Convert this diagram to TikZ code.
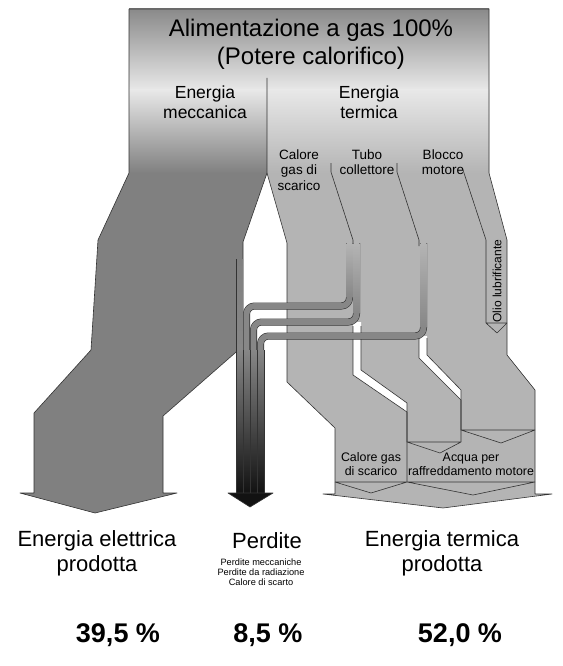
\documentclass[tikz,border=0pt]{standalone}
\usepackage{fontspec}
\setmainfont{Liberation Sans}
\definecolor{ink}{HTML}{333333}
\definecolor{mech}{HTML}{808080}
\definecolor{therm}{HTML}{B4B4B4}
\definecolor{haze}{HTML}{E8E8E8}
\definecolor{feed}{HTML}{8A8A8A}
\definecolor{pipegray}{HTML}{878787}
\definecolor{soot}{HTML}{121212}
\tikzset{
  edge/.style={draw=ink, line width=.6pt},
  pipe/.style={draw=ink, line width=.6pt, double=pipegray, double distance=5.8pt, rounded corners=8pt},
  lbl/.style={align=center, inner sep=0pt}
}

\begin{document}
\begin{tikzpicture}[x=1pt, y=-1pt, line join=round]
  \useasboundingbox (0,0) rectangle (562,666);
  % A: the two bands and the faded feed at the top
  \fill[mech] (129,90) -- (129,173) -- (98,240) -- (91,350) -- (34,413) -- (34,493) -- (20,493)
    -- (95,513) -- (177,493) -- (163,493) -- (163,416) -- (243,346) -- (243,242) -- (267,173) -- (267,90) -- cycle;
  \fill[therm] (267,90) -- (267,173) -- (287,243) -- (287,382) -- (335,428) -- (335,494) -- (323,494)
    -- (443,508) -- (552,494) -- (535,494) -- (535,390) -- (507,355) -- (507,240) -- (489,173) -- (489,90) -- cycle;
  \shade[top color=feed, bottom color=haze] (129,9) rectangle (489,90);
  \shade[top color=haze, bottom color=mech] (129,90) rectangle (267,173);
  \shade[top color=haze, bottom color=therm] (267,90) rectangle (489,173);
  % B: gaps left by the pipes
  \fill[white] (353,322) -- (353,375) -- (407,412) -- (407,403) -- (361,370) -- (361,322) -- cycle;
  \fill[white] (419,336) -- (419,358) -- (461,400) -- (461,390) -- (427,355) -- (427,336) -- cycle;
  % C: outlines
  \draw[edge] (129,9) -- (129,173) -- (98,240) -- (91,350) -- (34,413) -- (34,493) -- (20,493)
    -- (95,513) -- (177,493) -- (163,493) -- (163,416) -- (243,346) -- (243,242) -- (267,173) -- (267,78);
  \draw[edge] (267,173) -- (287,243) -- (287,382) -- (335,428) -- (335,494) -- (323,494)
    -- (443,508) -- (552,494) -- (535,494) -- (535,390) -- (507,355) -- (507,240) -- (489,173) -- (489,9) -- (129,9);
  \draw[edge] (331,163) -- (331,172) -- (353,240) -- (353,246);
  \draw[edge] (397,163) -- (397,172) -- (419,240) -- (419,246);
  \draw[edge] (463,170) -- (486,240) -- (486,323) -- (507,323) (486,323) -- (497,333) -- (507,323);
  \draw[edge] (353,326) -- (353,375) -- (407,412) -- (407,482);
  \draw[edge] (361,326) -- (361,370) -- (407,403) -- (407,442);
  \draw[edge] (419,338) -- (419,358) -- (461,400) -- (461,442);
  \draw[edge] (427,338) -- (427,355) -- (461,390) -- (461,430);
  \draw[edge] (407,442) -- (461,442) (407,442) -- (440,453) -- (461,442);
  \draw[edge] (461,430) -- (535,430) (461,430) -- (501,443) -- (535,430);
  \draw[edge] (335,482) -- (535,482) (335,482) -- (371,493) -- (407,482) -- (473,495) -- (535,482);
  % D: pipes into the loss arrow, lighter where they leave the band
  \foreach \px/\py/\sx in {349.5/306/246.5, 356.5/322/253.5, 423.5/336/260.5} {
    \draw[pipe] (\px,243) -- (\px,\py) -- (\sx,\py) -- (\sx,354);
    \shade[top color=therm, bottom color=pipegray] (\px-2.9,243) rectangle (\px+2.9,\py-9);
  }
  \shade[top color=mech, bottom color=pipegray] (236,259) rectangle (243,350);
  \shade[top color=pipegray, bottom color=soot] (236,350) rectangle (264,493);
  \draw[edge] (236,259) -- (236,493);
  \foreach \sx in {243,250,257,264} \draw[edge] (\sx,350) -- (\sx,493);
  \filldraw[fill=soot, draw=ink, line width=.6pt] (228,493) -- (273,493) -- (250,507) -- cycle;
  % E: labels
  \node[lbl, font=\fontsize{24}{28}\selectfont] (title) at (311,44) {Alimentazione a gas 100\%\\(Potere calorifico)};
  \node[lbl, font=\fontsize{17.5}{19.5}\selectfont] (mechlbl) at (205,102) {Energia\\meccanica};
  \node[lbl, font=\fontsize{17.5}{19.5}\selectfont] (thermlbl) at (369,102) {Energia\\termica};
  \node[lbl, font=\fontsize{13.5}{15.5}\selectfont] (exhaustlbl) at (299,170) {Calore\\gas di\\scarico};
  \node[lbl, font=\fontsize{13.5}{15.5}\selectfont] (manifoldlbl) at (367,162) {Tubo\\collettore};
  \node[lbl, font=\fontsize{13.5}{15.5}\selectfont] (blocklbl) at (443,162) {Blocco\\motore};
  \node[lbl, font=\fontsize{12}{14}\selectfont, rotate=90] (oillbl) at (497,281) {Olio lubrificante};
  \node[lbl, font=\fontsize{12.4}{14}\selectfont] (exhaustout) at (371,464) {Calore gas\\di scarico};
  \node[lbl, font=\fontsize{12.4}{14}\selectfont] (waterout) at (471,464) {Acqua per\\raffreddamento motore};
  \node[lbl, font=\fontsize{22}{25}\selectfont] (eleclbl) at (97,553) {Energia elettrica\\prodotta};
  \node[lbl, font=\fontsize{22}{25}\selectfont] (losslbl) at (267,541) {Perdite};
  \node[lbl, font=\fontsize{9.2}{10}\selectfont] (lossnote) at (261,572) {Perdite meccaniche\\Perdite da radiazione\\Calore di scarto};
  \node[lbl, font=\fontsize{22}{25}\selectfont] (heatlbl) at (442,553) {Energia termica\\prodotta};
  \node[lbl, font=\fontsize{27}{30}\selectfont\bfseries] (elecpct) at (118,635) {39,5 \%};
  \node[lbl, font=\fontsize{27}{30}\selectfont\bfseries] (losspct) at (268,635) {8,5 \%};
  \node[lbl, font=\fontsize{27}{30}\selectfont\bfseries] (heatpct) at (460,635) {52,0 \%};
\end{tikzpicture}
\end{document}
